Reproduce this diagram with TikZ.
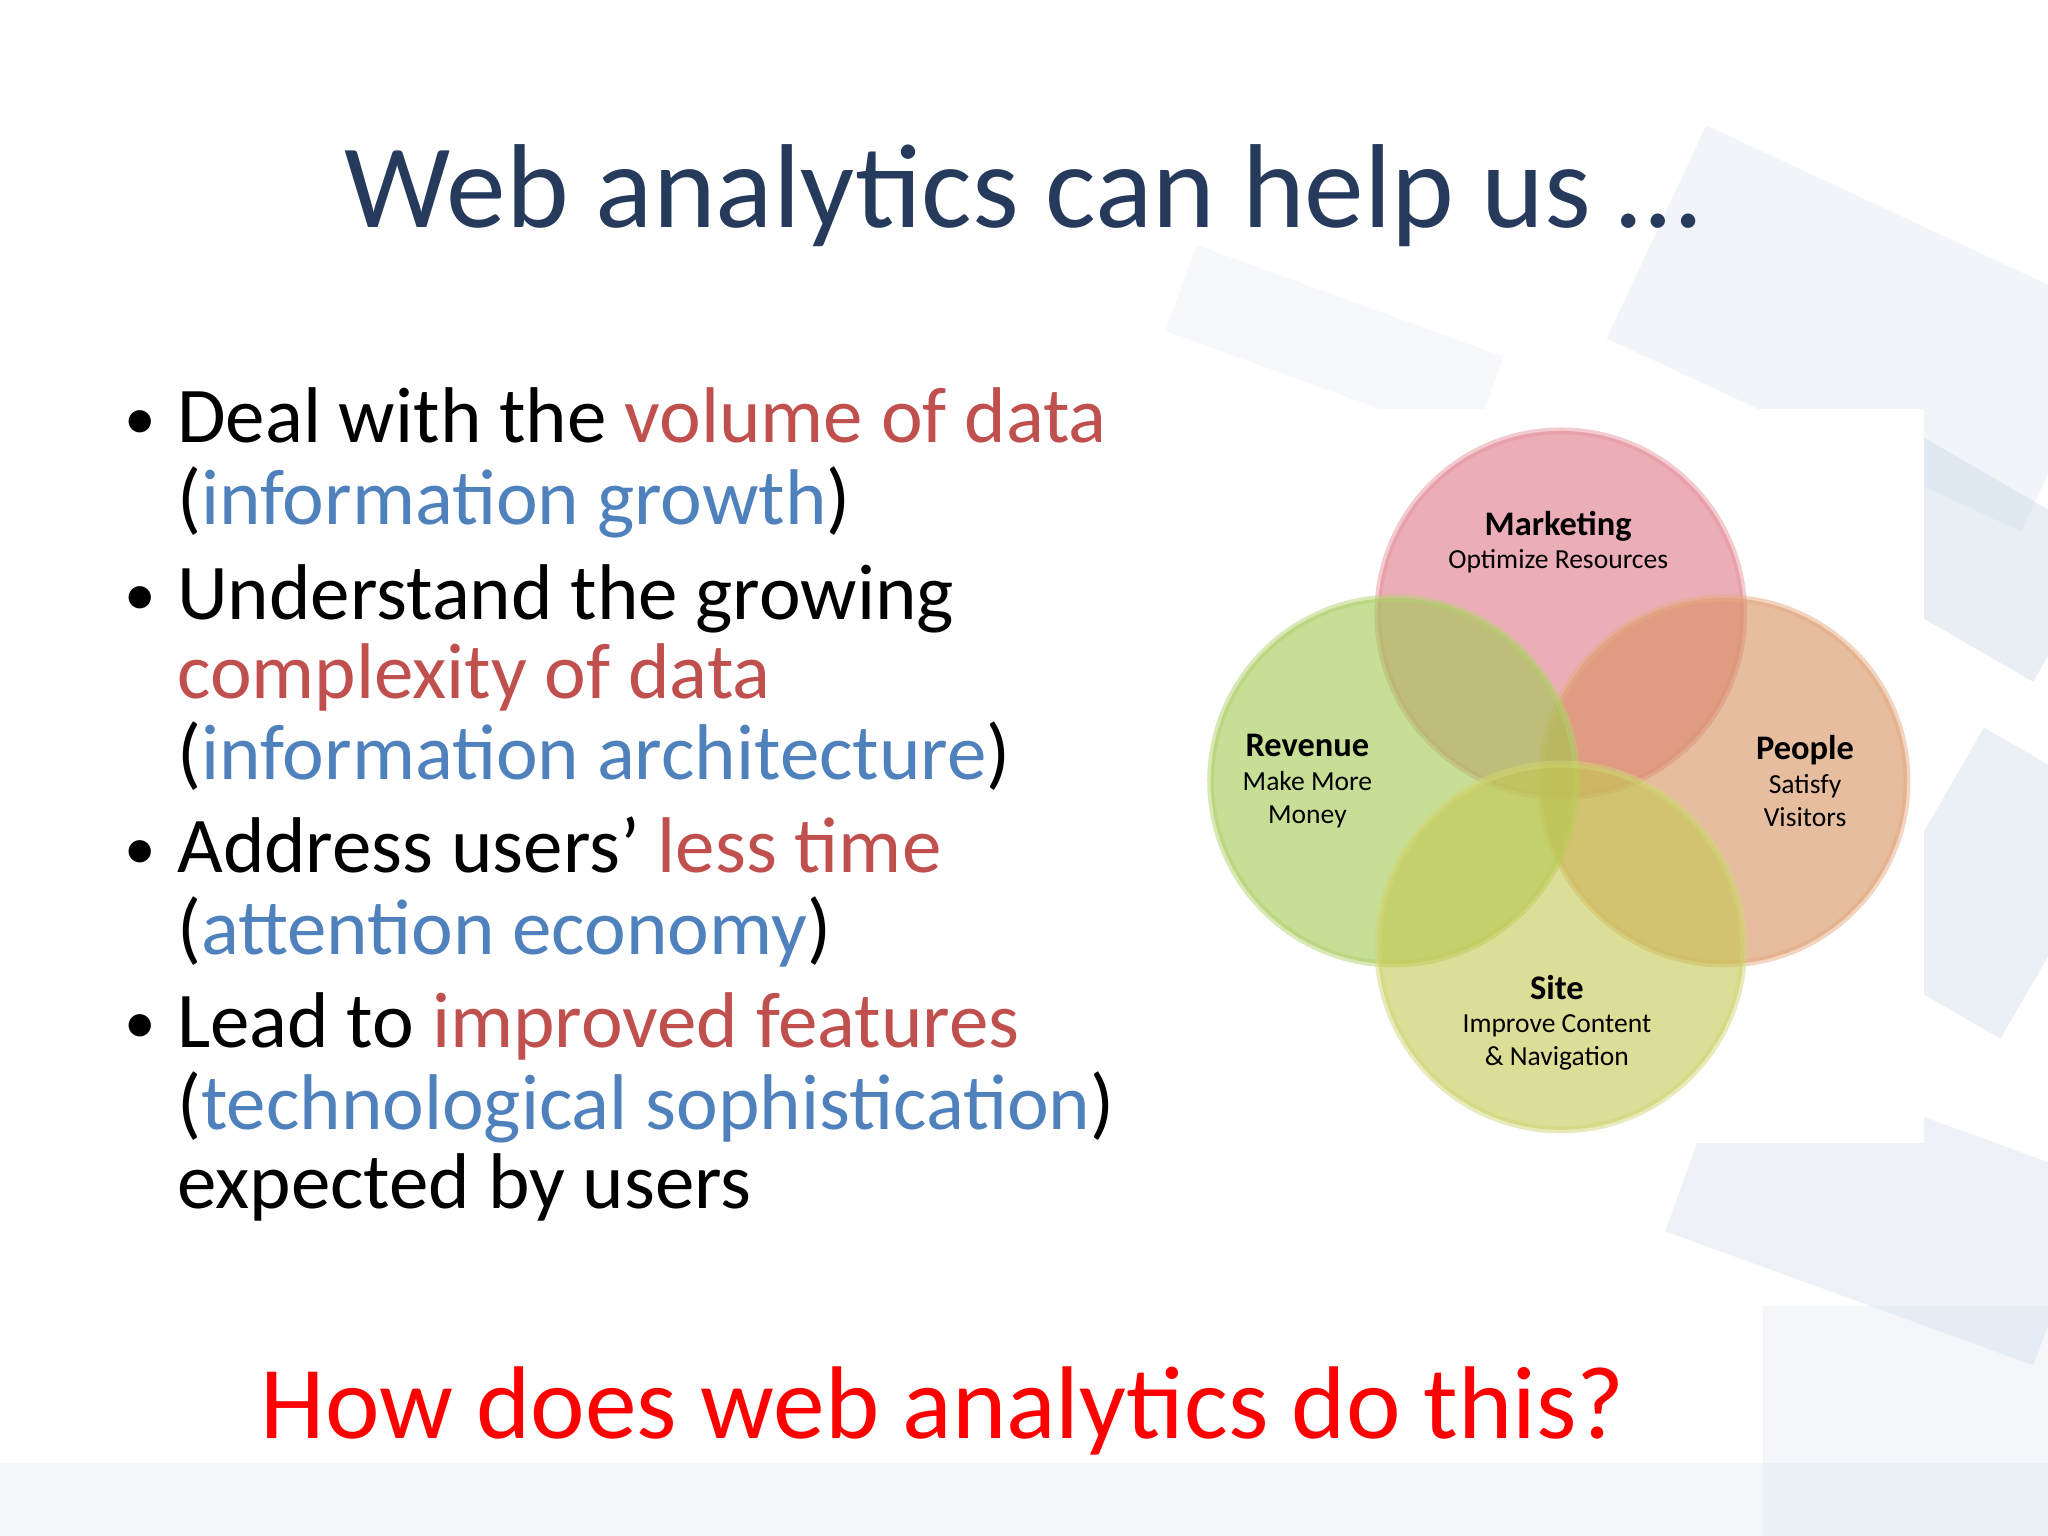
\documentclass[tikz,border=0pt]{standalone}
\usepackage{fontspec}
\setmainfont{Carlito}
\definecolor{ttl}{RGB}{38,58,92}
\definecolor{hred}{RGB}{192,80,77}
\definecolor{hblue}{RGB}{79,129,189}
\definecolor{bg1}{RGB}{200,214,232}
\newcommand{\bl}[1]{\begin{tabular}{@{}p{0.4cm}@{}l@{}}#1\end{tabular}}
\newcommand{\bul}{\raisebox{0.1ex}{\scalebox{0.8}{\textbullet}}}
\begin{document}
\begin{tikzpicture}[x=0.01cm,y=-0.01cm,
 bul/.style={anchor=north west,align=left,font=\fontsize{17.2}{17.2}\selectfont,inner sep=0pt},
 venn/.style={circle,minimum size=2.8cm,inner sep=0pt,fill opacity=0.6,draw opacity=0.5,line width=1.5pt},
 vl/.style={align=center,font=\fontsize{6}{7.2}\selectfont,inner sep=0pt}]
\useasboundingbox (0,0) rectangle (1568,1176);
\fill[white] (0,0) rectangle (1568,1176);
% faint background blobs
\fill[bg1,opacity=0.25,rotate around={-25:(1400,250)}] (1250,150) rectangle (1600,330);
\fill[bg1,opacity=0.4,rotate around={-30:(1500,420)}] (1420,360) rectangle (1600,480);
\fill[bg1,opacity=0.35,rotate around={-30:(1500,650)}] (1470,560) rectangle (1600,760);
\fill[bg1,opacity=0.3,rotate around={-20:(1450,900)}] (1300,850) rectangle (1600,1000);
\fill[bg1,opacity=0.2] (1350,1000) rectangle (1568,1176);
\fill[bg1,opacity=0.15,rotate around={-20:(1000,250)}] (900,220) rectangle (1150,290);
\fill[bg1,opacity=0.2] (0,1120) rectangle (1568,1176);
% title
\node (title) at (783,150) {\fontsize{26}{30}\selectfont\color{ttl}Web analytics can help us …};
% bullets
\node[bul] (t1) at (95,296) {\bl{\bul & Deal with the \textcolor{hred}{volume of data}\\
& (\textcolor{hblue}{information growth})}};
\node[bul] (t2) at (95,431) {\bl{\bul & Understand the growing\\
& \textcolor{hred}{complexity of data}\\
& (\textcolor{hblue}{information architecture})}};
\node[bul] (t3) at (95,625) {\bl{\bul & Address users’ \textcolor{hred}{less time}\\
& (\textcolor{hblue}{attention economy})}};
\node[bul] (t4) at (95,759) {\bl{\bul & Lead to \textcolor{hred}{improved features}\\
& (\textcolor{hblue}{technological sophistication})\\
& expected by users}};
% bottom question
\node (q) at (722,1080) {\fontsize{22.5}{26}\selectfont\color{red}How does web analytics do this?};
% venn picture
\fill[white] (928,313) rectangle (1473,875);
\node[venn,fill={rgb,255:red,222;green,120;blue,135},draw={rgb,255:red,230;green,150;blue,160}] (mk) at (1195,470) {};
\node[venn,fill={rgb,255:red,215;green,145;blue,95},draw={rgb,255:red,230;green,170;blue,130}] (pp) at (1320,598) {};
\node[venn,fill={rgb,255:red,160;green,200;blue,80},draw={rgb,255:red,180;green,210;blue,110}] (rv) at (1067,598) {};
\node[venn,fill={rgb,255:red,195;green,200;blue,80},draw={rgb,255:red,210;green,215;blue,120}] (st) at (1195,725) {};
\node[vl] (lmk) at (1193,415) {\textbf{\fontsize{7.5}{8.5}\selectfont Marketing}\\Optimize Resources};
\node[vl] (lrv) at (1001,598) {\textbf{\fontsize{7.5}{8.5}\selectfont Revenue}\\Make More\\Money};
\node[vl] (lpp) at (1382,598) {\textbf{\fontsize{7.5}{8.5}\selectfont People}\\Satisfy\\Visitors};
\node[vl] (lst) at (1192,783) {\textbf{\fontsize{7.5}{8.5}\selectfont Site}\\Improve Content\\\& Navigation};
\end{tikzpicture}
\end{document}
